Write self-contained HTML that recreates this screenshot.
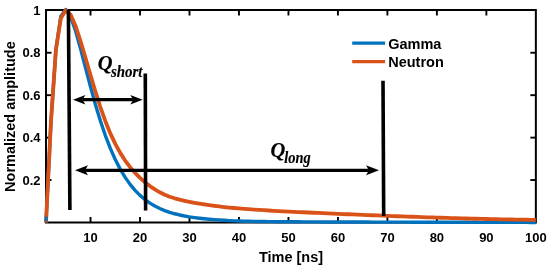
<!DOCTYPE html>
<html><head><meta charset="utf-8"><title>Pulse shapes</title>
<style>
html,body{margin:0;padding:0;background:#fff;}
body{width:550px;height:269px;overflow:hidden;}
svg{display:block;}
text{font-family:"Liberation Sans",Arial,Helvetica,sans-serif;font-weight:bold;fill:#000;}
.tk{font-size:13px;}
.lb{font-size:14.5px;}
.q{font-family:"Liberation Serif","Times New Roman",serif;font-weight:bold;font-style:italic;stroke:#000;stroke-width:0.15px;}
</style></head><body>
<svg width="550" height="269" viewBox="0 0 550 269">
<rect width="550" height="269" fill="#fff"/>
<g stroke="#000" stroke-width="1.9" fill="none">
<rect x="46.00" y="10" width="489.85" height="212.50" stroke-width="2"/>
<line x1="90.53" y1="222.50" x2="90.53" y2="217.00"/><line x1="90.53" y1="10" x2="90.53" y2="15.5"/><line x1="140.01" y1="222.50" x2="140.01" y2="217.00"/><line x1="140.01" y1="10" x2="140.01" y2="15.5"/><line x1="189.49" y1="222.50" x2="189.49" y2="217.00"/><line x1="189.49" y1="10" x2="189.49" y2="15.5"/><line x1="238.97" y1="222.50" x2="238.97" y2="217.00"/><line x1="238.97" y1="10" x2="238.97" y2="15.5"/><line x1="288.45" y1="222.50" x2="288.45" y2="217.00"/><line x1="288.45" y1="10" x2="288.45" y2="15.5"/><line x1="337.93" y1="222.50" x2="337.93" y2="217.00"/><line x1="337.93" y1="10" x2="337.93" y2="15.5"/><line x1="387.41" y1="222.50" x2="387.41" y2="217.00"/><line x1="387.41" y1="10" x2="387.41" y2="15.5"/><line x1="436.89" y1="222.50" x2="436.89" y2="217.00"/><line x1="436.89" y1="10" x2="436.89" y2="15.5"/><line x1="486.37" y1="222.50" x2="486.37" y2="217.00"/><line x1="486.37" y1="10" x2="486.37" y2="15.5"/><line x1="46.00" y1="180.06" x2="51.50" y2="180.06"/><line x1="535.85" y1="180.06" x2="530.35" y2="180.06"/><line x1="46.00" y1="137.62" x2="51.50" y2="137.62"/><line x1="535.85" y1="137.62" x2="530.35" y2="137.62"/><line x1="46.00" y1="95.18" x2="51.50" y2="95.18"/><line x1="535.85" y1="95.18" x2="530.35" y2="95.18"/><line x1="46.00" y1="52.74" x2="51.50" y2="52.74"/><line x1="535.85" y1="52.74" x2="530.35" y2="52.74"/>
</g>
<g class="tk"><text x="90.53" y="241.8" text-anchor="middle">10</text><text x="140.01" y="241.8" text-anchor="middle">20</text><text x="189.49" y="241.8" text-anchor="middle">30</text><text x="238.97" y="241.8" text-anchor="middle">40</text><text x="288.45" y="241.8" text-anchor="middle">50</text><text x="337.93" y="241.8" text-anchor="middle">60</text><text x="387.41" y="241.8" text-anchor="middle">70</text><text x="436.89" y="241.8" text-anchor="middle">80</text><text x="486.37" y="241.8" text-anchor="middle">90</text><text x="535.85" y="241.8" text-anchor="middle">100</text><text x="40.6" y="184.56" text-anchor="end">0.2</text><text x="40.6" y="142.12" text-anchor="end">0.4</text><text x="40.6" y="99.68" text-anchor="end">0.6</text><text x="40.6" y="57.24" text-anchor="end">0.8</text><text x="40.6" y="14.80" text-anchor="end">1</text></g>
<text class="lb" x="291" y="261.9" text-anchor="middle">Time [ns]</text>
<text class="lb" transform="translate(15.3,116.6) rotate(-90)" text-anchor="middle">Normalized amplitude</text>
<polyline points="46.00,222.50 50.95,121.92 55.90,49.56 60.84,16.24 65.79,9.45 70.74,17.09 75.69,31.26 80.64,49.05 85.58,68.10 90.53,86.94 95.48,104.71 100.43,120.97 105.38,135.52 110.32,148.34 115.27,159.50 120.22,169.13 125.17,177.37 130.12,184.38 135.06,190.33 140.01,195.34 144.96,199.56 149.91,203.10 154.86,206.07 159.80,208.54 164.75,210.61 169.70,212.34 174.65,213.77 179.60,214.97 184.54,215.97 189.49,216.83 194.44,217.57 199.39,218.20 204.34,218.75 209.28,219.23 214.23,219.64 219.18,220.01 224.13,220.32 229.08,220.59 234.02,220.83 238.97,221.03 243.92,221.19 248.87,221.32 253.82,221.42 258.76,221.49 263.71,221.55 268.66,221.61 273.61,221.65 278.56,221.69 283.50,221.73 288.45,221.76 293.40,221.79 298.35,221.82 303.30,221.85 308.24,221.87 313.19,221.89 318.14,221.91 323.09,221.93 328.04,221.95 332.98,221.96 337.93,221.98 342.88,222.00 347.83,222.01 352.78,222.03 357.72,222.04 362.67,222.05 367.62,222.07 372.57,222.08 377.52,222.09 382.46,222.11 387.41,222.12 392.36,222.13 397.31,222.14 402.26,222.16 407.20,222.17 412.15,222.18 417.10,222.19 422.05,222.20 427.00,222.22 431.94,222.23 436.89,222.24 441.84,222.25 446.79,222.26 451.74,222.27 456.68,222.28 461.63,222.29 466.58,222.30 471.53,222.31 476.48,222.32 481.42,222.33 486.37,222.34 491.32,222.35 496.27,222.36 501.22,222.37 506.16,222.38 511.11,222.39 516.06,222.40 521.01,222.41 525.96,222.42 530.90,222.43 535.85,222.44" fill="none" stroke="#0072BD" stroke-width="3.4" stroke-linejoin="round"/>
<polyline points="46.00,222.50 50.95,121.87 55.90,50.07 60.84,18.26 65.79,10.30 70.74,14.97 75.69,26.34 80.64,41.64 85.58,58.31 90.53,75.27 95.48,91.80 100.43,107.28 105.38,121.23 110.32,133.43 115.27,143.92 120.22,152.88 125.17,160.56 130.12,167.16 135.06,172.88 140.01,177.87 144.96,182.24 149.91,186.08 154.86,189.43 159.80,192.31 164.75,194.72 169.70,196.70 174.65,198.31 179.60,199.64 184.54,200.78 189.49,201.81 194.44,202.76 199.39,203.64 204.34,204.44 209.28,205.18 214.23,205.85 219.18,206.46 224.13,207.02 229.08,207.53 234.02,208.00 238.97,208.43 243.92,208.83 248.87,209.20 253.82,209.56 258.76,209.89 263.71,210.20 268.66,210.50 273.61,210.78 278.56,211.05 283.50,211.31 288.45,211.56 293.40,211.80 298.35,212.04 303.30,212.27 308.24,212.50 313.19,212.73 318.14,212.95 323.09,213.18 328.04,213.39 332.98,213.61 337.93,213.83 342.88,214.04 347.83,214.25 352.78,214.46 357.72,214.66 362.67,214.87 367.62,215.07 372.57,215.27 377.52,215.46 382.46,215.66 387.41,215.85 392.36,216.04 397.31,216.23 402.26,216.41 407.20,216.59 412.15,216.77 417.10,216.94 422.05,217.12 427.00,217.28 431.94,217.45 436.89,217.61 441.84,217.77 446.79,217.92 451.74,218.07 456.68,218.21 461.63,218.36 466.58,218.49 471.53,218.62 476.48,218.75 481.42,218.87 486.37,218.99 491.32,219.10 496.27,219.21 501.22,219.31 506.16,219.41 511.11,219.50 516.06,219.58 521.01,219.67 525.96,219.75 530.90,219.83 535.85,219.91" fill="none" stroke="#D95319" stroke-width="3.8" stroke-linejoin="round"/>
<rect x="44.8" y="216.6" width="2.9" height="4.6" fill="#0072BD"/>
<g stroke="#000" stroke-width="3.6">
<line x1="68.4" y1="10" x2="69.9" y2="210"/>
<line x1="145.3" y1="73.5" x2="145.6" y2="210.6"/>
<line x1="383.0" y1="80.7" x2="383.7" y2="216"/>
</g>
<line x1="82.40" y1="99.70" x2="133.30" y2="99.70" stroke="#000" stroke-width="3.20"/><polygon points="73.00,99.70 85.40,94.90 82.40,99.70 85.40,104.50"/><polygon points="142.70,99.70 130.30,94.90 133.30,99.70 130.30,104.50"/><line x1="85.00" y1="170.30" x2="369.00" y2="170.30" stroke="#000" stroke-width="3.20"/><polygon points="75.00,170.30 88.00,165.30 85.00,170.30 88.00,175.30"/><polygon points="379.00,170.30 366.00,165.30 369.00,170.30 366.00,175.30"/>
<line x1="352.2" y1="43.2" x2="385.1" y2="43.2" stroke="#0072BD" stroke-width="3.3"/>
<line x1="352.2" y1="61.7" x2="385.1" y2="61.7" stroke="#D95319" stroke-width="3.3"/>
<text class="lb" x="388.2" y="48.6">Gamma</text>
<text class="lb" x="388.2" y="67.1">Neutron</text>
<text class="q" x="97.8" y="69.9" font-size="20.5">Q</text><text class="q" transform="translate(110.9,76.9) scale(0.935,1)" font-size="16">short</text>
<text class="q" x="270.5" y="156.7" font-size="20.5">Q</text><text class="q" transform="translate(284.3,163.0) scale(0.9,1)" font-size="16">long</text>
</svg>
</body></html>
